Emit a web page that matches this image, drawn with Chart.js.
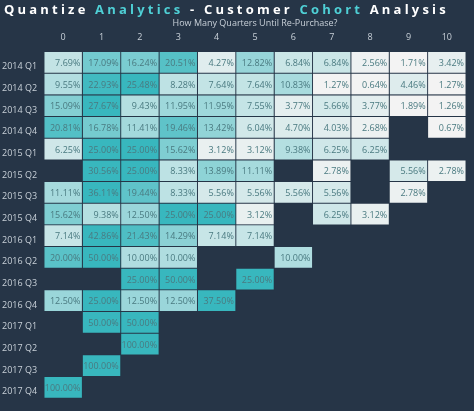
<!DOCTYPE html><html><head><meta charset="utf-8">
<script src="https://cdn.jsdelivr.net/npm/chart.js@4"></script>
<style>
html,body{margin:0;padding:0;background:#263547;width:474px;height:411px;overflow:hidden}
#t{position:absolute;left:4px;top:0px;font:bold 13px "Open Sans",sans-serif;letter-spacing:3.2px;color:#fff;white-space:nowrap}
#t .c{color:#4fd0d6}
#w{position:absolute;left:0;top:0;width:474px;height:411px}
</style></head><body>
<div id="w"><canvas id="c"></canvas></div>
<div id="t">Quantize <span class="c">Analytics</span> - Customer <span class="c">Cohort</span> Analysis</div>
<script>
const cohorts=["2014 Q1","2014 Q2","2014 Q3","2014 Q4","2015 Q1","2015 Q2","2015 Q3","2015 Q4","2016 Q1","2016 Q2","2016 Q3","2016 Q4","2017 Q1","2017 Q2","2017 Q3","2017 Q4"];
const quarters=["0","1","2","3","4","5","6","7","8","9","10"];
const values=[
[7.69,17.09,16.24,20.51,4.27,12.82,6.84,6.84,2.56,1.71,3.42],
[9.55,22.93,25.48,8.28,7.64,7.64,10.83,1.27,0.64,4.46,1.27],
[15.09,27.67,9.43,11.95,11.95,7.55,3.77,5.66,3.77,1.89,1.26],
[20.81,16.78,11.41,19.46,13.42,6.04,4.70,4.03,2.68,null,0.67],
[6.25,25.00,25.00,15.62,3.12,3.12,9.38,6.25,6.25,null,null],
[null,30.56,25.00,8.33,13.89,11.11,null,2.78,null,5.56,2.78],
[11.11,36.11,19.44,8.33,5.56,5.56,5.56,5.56,null,2.78,null],
[15.62,9.38,12.50,25.00,25.00,3.12,null,6.25,3.12,null,null],
[7.14,42.86,21.43,14.29,7.14,7.14,null,null,null,null,null],
[20.00,50.00,10.00,10.00,null,null,10.00,null,null,null,null],
[null,null,25.00,50.00,null,25.00,null,null,null,null,null],
[12.50,25.00,12.50,12.50,37.50,null,null,null,null,null,null],
[null,50.00,50.00,null,null,null,null,null,null,null,null],
[null,null,100.00,null,null,null,null,null,null,null,null],
[null,100.00,null,null,null,null,null,null,null,null,null],
[100.00,null,null,null,null,null,null,null,null,null,null]];
function col(v){
  const t=Math.min(1,Math.max(0,(v-2)/22));
  const a=[243,243,243],b=[56,183,190];
  return `rgb(${a.map((x,i)=>Math.round(x+(b[i]-x)*t)).join(',')})`;
}
const datasets=quarters.map((q,c)=>({
  label:q,
  data:cohorts.map((r,i)=>values[i][c]==null?null:[c,c+1]),
  backgroundColor:cohorts.map((r,i)=>values[i][c]==null?'transparent':col(values[i][c])),
  borderColor:'#263547',borderWidth:0.8,borderSkipped:false,
  grouped:false,barPercentage:1,categoryPercentage:1
}));
const labelPlugin={id:'lbl',afterDatasetsDraw(ch){
  const ctx=ch.ctx;ctx.save();ctx.font='9px "Open Sans",sans-serif';ctx.fillStyle='#4a7a80';ctx.textAlign='right';ctx.textBaseline='middle';
  const xs=ch.scales.x,ys=ch.scales.y;
  values.forEach((row,i)=>row.forEach((v,c)=>{if(v==null)return;
    ctx.fillText(v.toFixed(2)+'%',xs.getPixelForValue(c+1)-2,ys.getPixelForValue(i)+1);}));
  ctx.restore();}};
new Chart(document.getElementById('c'),{type:'bar',data:{labels:cohorts,datasets},
options:{indexAxis:'y',responsive:true,maintainAspectRatio:false,animation:false,
layout:{padding:{top:18,right:8,bottom:6,left:2}},
plugins:{legend:{display:false},tooltip:{enabled:false}},
scales:{
 x:{type:'linear',position:'top',min:0,max:11,grid:{display:false},border:{display:false},
  afterBuildTicks(s){s.ticks=quarters.map((q,i)=>({value:i+0.5}));},
  ticks:{color:'#c8d0d8',font:{size:9,family:'Open Sans'},padding:1,callback:(v)=>quarters[Math.floor(v)]},
  title:{display:true,text:'How Many Quarters Until Re-Purchase?',color:'#c8d0d8',font:{size:9,family:'Open Sans'},padding:{top:0,bottom:2}}},
 y:{grid:{display:false},border:{display:false},afterFit(s){s.width=42;},
  ticks:{color:'#c8d0d8',font:{size:9,family:'Open Sans'},align:'start',crossAlign:'far',padding:2}}
}},plugins:[labelPlugin]});
</script></body></html>
